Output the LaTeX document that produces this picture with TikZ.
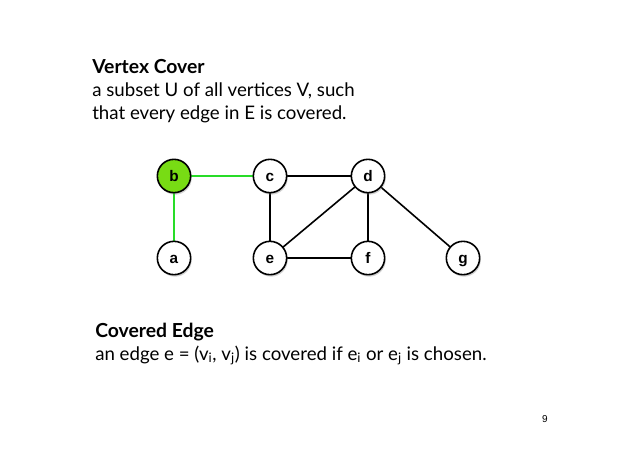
\documentclass[tikz,border=0pt]{standalone}
\usepackage{fontspec}
\setmainfont{Lato}
\newfontfamily\nodefont{Liberation Sans}
\usetikzlibrary{shadows}
\definecolor{cgreen}{RGB}{120,220,20}
\definecolor{lgreen}{RGB}{40,220,40}
\tikzset{
  vtx/.style={circle,draw,line width=1.2pt,fill=white,minimum size=25pt,inner sep=0pt,text height=8pt,text depth=0pt,font=\nodefont\bfseries\fontsize{11.5}{13}\selectfont,drop shadow={opacity=0.35,shadow xshift=0.8pt,shadow yshift=-1.5pt}},
  edge/.style={line width=1.2pt},
  cov/.style={line width=1.2pt,draw=lgreen},
  txt/.style={anchor=base west,inner sep=0pt,font=\fontsize{14}{16}\selectfont}
}
\begin{document}
\begin{tikzpicture}[x=0.75pt,y=-0.75pt]
\useasboundingbox (0,0) rectangle (638,451);
\node[txt,font=\bfseries\fontsize{14.5}{16}\selectfont] (t1) at (92,73) {Vertex Cover};
\node[txt] (t2) at (92,96) {a subset U of all vertices V, such};
\node[txt] (t3) at (92,119) {that every edge in E is covered.};
\node[txt,font=\bfseries\fontsize{14.5}{16}\selectfont] (t4) at (95,337) {Covered Edge};
\node[txt] (t5) at (95,360) {an edge e = (v\textsubscript{i}, v\textsubscript{j}) is covered if e\textsubscript{i} or e\textsubscript{j} is chosen.};
\node[anchor=base,inner sep=0pt,font=\nodefont\fontsize{7.5}{9}\selectfont] (pg) at (545,422) {9};
\coordinate (pb) at (174,176);
\coordinate (pc) at (270,176);
\coordinate (pd) at (368,176);
\coordinate (pa) at (174,258);
\coordinate (pe) at (270,258);
\coordinate (pf) at (368,258);
\coordinate (pg2) at (463,258);
\draw[cov] (pb) -- (pc);
\draw[cov] (pb) -- (pa);
\draw[edge] (pc) -- (pd);
\draw[edge] (pc) -- (pe);
\draw[edge] (pe) -- (pd);
\draw[edge] (pe) -- (pf);
\draw[edge] (pd) -- (pf);
\draw[edge] (pd) -- (pg2);
\node[vtx,fill=cgreen] (b) at (pb) {b};
\node[vtx] (c) at (pc) {c};
\node[vtx] (d) at (pd) {d};
\node[vtx] (a) at (pa) {a};
\node[vtx] (e) at (pe) {e};
\node[vtx] (f) at (pf) {f};
\node[vtx] (g) at (pg2) {g};
\end{tikzpicture}
\end{document}
